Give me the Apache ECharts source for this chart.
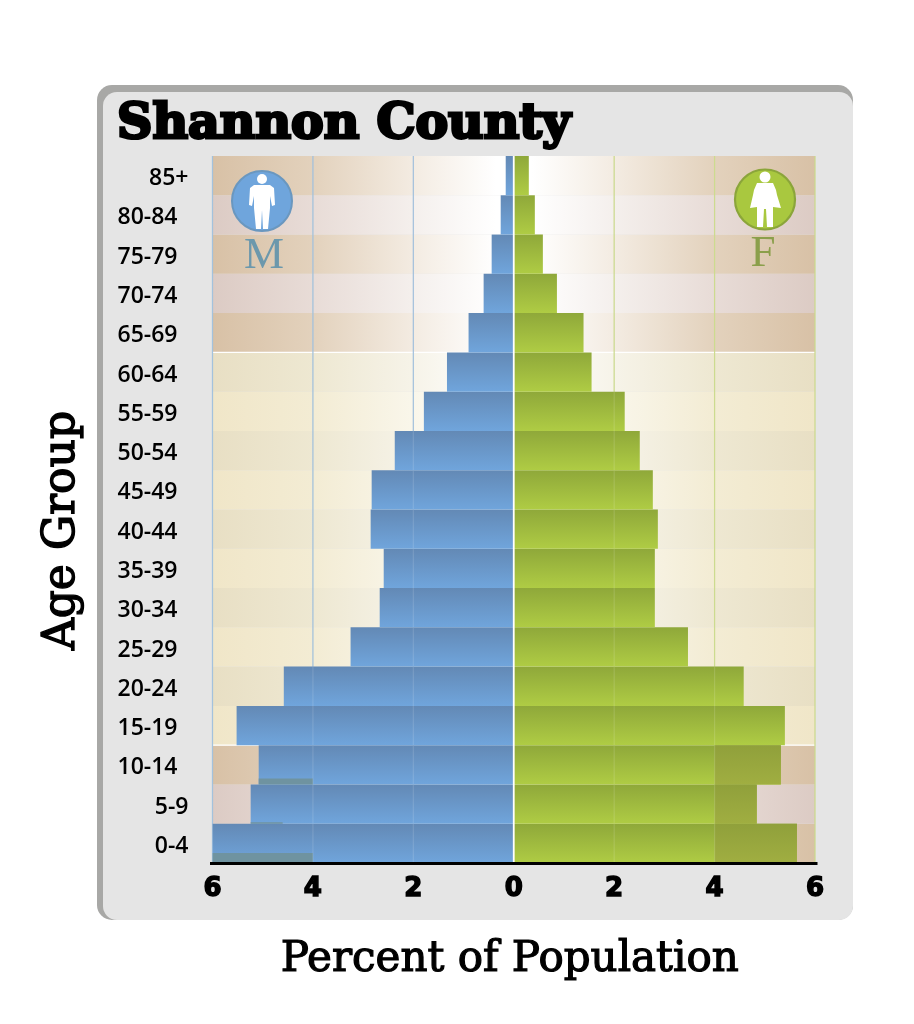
<!DOCTYPE html>
<html>
<head>
<meta charset="utf-8">
<style>html,body{margin:0;padding:0;background:#fff}#chart{width:914px;height:1024px}</style>
<script src="https://cdn.jsdelivr.net/npm/echarts@6/dist/echarts.min.js"></script>
</head>
<body>
<div id="chart"></div>
<script>
// Age groups, listed bottom to top as the category axis stacks them
const ageGroups = ['0-4','5-9','10-14','15-19','20-24','25-29','30-34','35-39','40-44','45-49','50-54','55-59','60-64','65-69','70-74','75-79','80-84','85+'];
// Percent of population in each age group
const malePercent = [6.0,5.24,5.08,5.52,4.58,3.25,2.67,2.59,2.85,2.83,2.37,1.79,1.33,0.9,0.6,0.44,0.26,0.16];
const femalePercent = [5.64,4.84,5.32,5.4,4.58,3.47,2.81,2.81,2.87,2.77,2.51,2.21,1.55,1.39,0.86,0.58,0.42,0.3];
const gridTicks = [-6,-4,-2,2,4,6];
const bandTones = ['tan','pink','tan','creamA','creamB','creamA','creamB','creamA','creamB','creamA','creamB','creamA','creamB','tan','pink','tan','pink','tan'];
// Rows whose lower edge carries a white seam
const seamRows = ['65-69','15-19'];
// Rows whose bars run darker past the 4% line
const femaleDarkRows = ['10-14','5-9','0-4'];
const maleDarkRows = ['10-14','5-9','0-4'];
const axisMax = 6;
const darkFrom = 4;

const toneStops = {
  tan:    ['#d8c1a6', '#e3d2bd', '#f3ebe1'],
  pink:   ['#dccbc4', '#e8dcd7', '#f4efec'],
  creamA: ['#f0e6c8', '#f3ecd4', '#f9f6ea'],
  creamB: ['#e8dfc4', '#eee8d2', '#f6f3e8']
};

function bandFill(tone) {
  const [edge, mid, soft] = toneStops[tone];
  return new echarts.graphic.LinearGradient(0, 0, 1, 0, [
    {offset: 0, color: edge},
    {offset: 0.17, color: mid},
    {offset: 0.33, color: soft},
    {offset: 0.47, color: '#ffffff'},
    {offset: 0.53, color: '#ffffff'},
    {offset: 0.67, color: soft},
    {offset: 0.83, color: mid},
    {offset: 1, color: edge}
  ]);
}

function barFill(top, bottom) {
  return new echarts.graphic.LinearGradient(0, 0, 0, 1, [
    {offset: 0, color: top},
    {offset: 1, color: bottom}
  ]);
}

const grid = {left: 212.5, right: 99, top: 156, bottom: 161};

// Row-wide background band running across the whole value axis
function renderBand(params, api) {
  const left = api.coord([-axisMax, api.value(1)]);
  const right = api.coord([axisMax, api.value(1)]);
  const h = api.size([0, 1])[1];
  return {
    type: 'rect',
    shape: {x: left[0], y: left[1] - h / 2, width: right[0] - left[0], height: h},
    style: {fill: bandFill(bandTones[api.value(0)])}
  };
}

// Full-height vertical rule at a value, spanning every row of the category axis
function ruleShape(api, width) {
  const rowH = api.size([0, 1])[1];
  const top = api.coord([api.value(0), ageGroups.length - 1]);
  return {x: top[0] - width / 2, y: top[1] - rowH / 2, width: width, height: rowH * ageGroups.length};
}

// Reference line; the colour follows the side of the pyramid
function renderTick(opacity, mono) {
  return function (params, api) {
    return {
      type: 'rect',
      shape: ruleShape(api, 1.2),
      style: {fill: mono || (api.value(0) < 0 ? '#96b9d8' : '#c5d67f'), opacity: opacity}
    };
  };
}

// Olive overlay on the part of a female bar beyond the 4% line
function renderFemaleDark(params, api) {
  const a = api.coord([darkFrom, api.value(0)]);
  const b = api.coord([api.value(1), api.value(0)]);
  const h = api.size([0, 1])[1];
  return {
    type: 'rect',
    shape: {x: a[0], y: a[1] - h / 2, width: b[0] - a[0], height: h},
    style: {fill: barFill('#90a03b', '#a0ae41')}
  };
}

// Thin muted strip along the lower edge of a male bar beyond the 4% line
const stripHeight = {'10-14': 6, '5-9': 1.5, '0-4': 10};
function renderMaleStrip(params, api) {
  const row = ageGroups[api.value(0)];
  const a = api.coord([-api.value(1), api.value(0)]);
  const b = api.coord([-darkFrom, api.value(0)]);
  const h = api.size([0, 1])[1];
  const sh = stripHeight[row];
  const limit = row === '5-9' ? a[0] + 32 : b[0];
  return {
    type: 'rect',
    shape: {x: a[0], y: a[1] + h / 2 - sh, width: limit - a[0], height: sh},
    style: {fill: '#6f93a0'}
  };
}

const barBase = {
  type: 'bar',
  barWidth: '100%',
  barGap: '-100%',
  animation: false,
  silent: true
};

const ticksData = gridTicks.map(v => [v]);
const chart = echarts.init(document.getElementById('chart'), null, {renderer: 'canvas'});

chart.setOption({
  animation: false,
  backgroundColor: '#ffffff',
  title: {
    text: 'Shannon County',
    left: 112,
    top: 96,
    textStyle: {
      fontFamily: '"DejaVu Serif"', fontWeight: 'bold', fontSize: 49, color: '#000',
      textBorderColor: '#000', textBorderWidth: 3
    }
  },
  grid: grid,
  xAxis: {
    type: 'value', min: -axisMax, max: axisMax, interval: 2,
    name: 'Percent of Population',
    nameLocation: 'middle',
    nameGap: 76,
    nameTextStyle: {
      fontFamily: '"DejaVu Serif"', fontSize: 42, color: '#000', padding: [0, 8, 0, 0],
      textBorderColor: '#000', textBorderWidth: 1.2
    },
    splitLine: {show: false},
    axisTick: {show: false},
    axisLine: {show: false},
    axisLabel: {
      margin: 13,
      fontFamily: '"DejaVu Sans"', fontWeight: 'bold', fontSize: 26, color: '#000',
      textBorderColor: '#000', textBorderWidth: 1.5,
      formatter: v => String(Math.abs(v))
    }
  },
  yAxis: {
    type: 'category', data: ageGroups,
    name: 'Age Group',
    nameLocation: 'middle',
    nameGap: 128,
    nameRotate: 90,
    nameTextStyle: {
      fontFamily: '"DejaVu Serif"', fontSize: 44, color: '#000', padding: [0, 42, 0, 0],
      textBorderColor: '#000', textBorderWidth: 1.4
    },
    axisTick: {show: false},
    axisLine: {show: false},
    axisLabel: {
      margin: 24,
      interval: 0,
      formatter: v => (v.length > 3 ? '{wide|' + v + '}' : '{narrow|' + v + '}'),
      rich: {
        wide: {fontFamily: '"Open Sans"', fontWeight: 600, fontSize: 23, color: '#000', padding: [6, 11, 0, 0]},
        narrow: {fontFamily: '"Open Sans"', fontWeight: 600, fontSize: 23, color: '#000', padding: [6, 0, 0, 0]}
      }
    }
  },
  series: [
    {
      type: 'custom', silent: true, z: 1, renderItem: renderBand, clip: false,
      encode: {y: 1},
      data: ageGroups.map((g, i) => [i, i])
    },
    {
      // White seams between the colour zones of the background
      type: 'custom', silent: true, z: 2,
      renderItem: function (params, api) {
        const a = api.coord([-axisMax, api.value(0)]);
        const b = api.coord([axisMax, api.value(0)]);
        const h = api.size([0, 1])[1];
        return {type: 'rect', shape: {x: a[0], y: a[1] + h / 2 - 0.6, width: b[0] - a[0], height: 1.2}, style: {fill: '#ffffff'}};
      },
      encode: {y: 0},
      data: seamRows.map(r => [ageGroups.indexOf(r)])
    },
    {
      type: 'custom', silent: true, z: 2, renderItem: renderTick(1), clip: false,
      encode: {x: 0},
      data: ticksData
    },
    Object.assign({}, barBase, {
      z: 3, name: 'Male',
      data: malePercent.map(v => -v),
      itemStyle: {color: barFill('#6389b5', '#70a5dc')}
    }),
    Object.assign({}, barBase, {
      z: 3, name: 'Female',
      data: femalePercent,
      itemStyle: {color: barFill('#8fa83a', '#afcc44')}
    }),
    {
      type: 'custom', silent: true, z: 4, renderItem: renderFemaleDark,
      encode: {x: 1, y: 0},
      data: femaleDarkRows.map(r => [ageGroups.indexOf(r), femalePercent[ageGroups.indexOf(r)]])
    },
    {
      type: 'custom', silent: true, z: 4, renderItem: renderMaleStrip,
      encode: {y: 0},
      data: maleDarkRows.map(r => [ageGroups.indexOf(r), malePercent[ageGroups.indexOf(r)]])
    },
    {
      // Faint traces of the reference lines running through the bars
      type: 'custom', silent: true, z: 5, renderItem: renderTick(0.13, '#ffffff'),
      encode: {x: 0},
      data: ticksData
    },
    {
      // White centre line at zero
      type: 'custom', silent: true, z: 6,
      renderItem: function (params, api) {
        return {type: 'rect', shape: ruleShape(api, 1.8), style: {fill: '#ffffff'}};
      },
      encode: {x: 0},
      data: [[0]]
    }
  ],
  graphic: {
    elements: [
      // Card with a grey lip on its top and left edges
      {type: 'rect', z: -2, shape: {x: 97, y: 85, width: 756, height: 835, r: 15}, style: {fill: '#a8a8a6'}},
      {type: 'rect', z: -1, shape: {x: 103, y: 92, width: 750, height: 828, r: 14}, style: {fill: '#e5e5e5'}},
      // Axis baseline
      {type: 'rect', z: 20, shape: {x: 210, y: 862, width: 607.5, height: 3}, style: {fill: '#000'}},
      // Male badge
      {type: 'circle', z: 20, shape: {cx: 262, cy: 201, r: 30}, style: {fill: '#6fa5dc', stroke: '#6a97bf', lineWidth: 2}},
      {type: 'circle', z: 21, shape: {cx: 262, cy: 179, r: 5}, style: {fill: '#fff'}},
      {type: 'polygon', z: 21, shape: {points: [
        [254,185],[270,185],[274,188],[275,205],[272,206],[270,196],[270,208],[268,229],[263,229],[262,210],[261,229],[256,229],[254,208],[254,196],[252,206],[249,205],[250,188]
      ]}, style: {fill: '#fff'}},
      {type: 'text', z: 21, x: 264, y: 256, style: {
        text: 'M', font: '45px "Liberation Serif"', fill: '#6c98ac', align: 'center', verticalAlign: 'middle'
      }},
      // Female badge
      {type: 'circle', z: 20, shape: {cx: 765, cy: 199.5, r: 30}, style: {fill: '#a9c83f', stroke: '#8ba53a', lineWidth: 2.2}},
      {type: 'circle', z: 21, shape: {cx: 765, cy: 177, r: 5.5}, style: {fill: '#fff'}},
      {type: 'polygon', z: 21, shape: {points: [
        [757,183],[773,183],[776,190],[777,195],[781,208],[773,207],[773,227],[767,227],[766,209],[764,209],[763,227],[757,227],[757,207],[750,208],[753,195],[754,190]
      ]}, style: {fill: '#fff'}},
      {type: 'text', z: 21, x: 763, y: 254, style: {
        text: 'F', font: '45px "Liberation Serif"', fill: '#8b9f4b', align: 'center', verticalAlign: 'middle'
      }}
    ]
  }
});
</script>
</body>
</html>
